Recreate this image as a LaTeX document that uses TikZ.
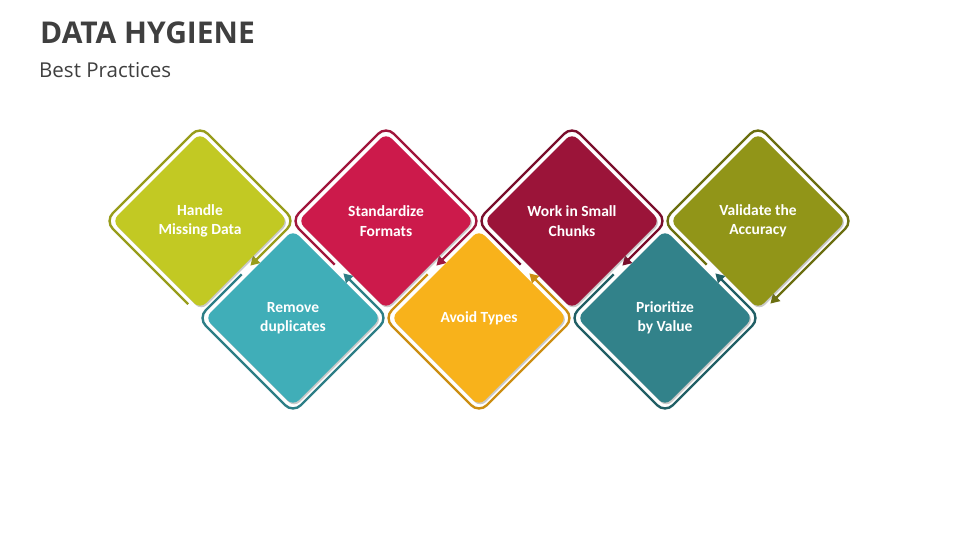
\documentclass[tikz,border=0pt]{standalone}
\usepackage{fontspec}
\setmainfont{Carlito}
\newfontfamily\titlefont{Open Sans}
\usetikzlibrary{shapes.geometric,shadows,calc,arrows.meta}
\definecolor{titlegray}{HTML}{3F3F3F}
\definecolor{cAfill}{HTML}{C2C923}\definecolor{cAline}{HTML}{989D1B}
\definecolor{cBfill}{HTML}{40AEB8}\definecolor{cBline}{HTML}{2D7E86}
\definecolor{cCfill}{HTML}{CC1A4B}\definecolor{cCline}{HTML}{A0163C}
\definecolor{cDfill}{HTML}{F8B21B}\definecolor{cDline}{HTML}{CC8E12}
\definecolor{cEfill}{HTML}{9B1439}\definecolor{cEline}{HTML}{7A0E2C}
\definecolor{cFfill}{HTML}{32828A}\definecolor{cFline}{HTML}{215F65}
\definecolor{cGfill}{HTML}{919518}\definecolor{cGline}{HTML}{6B6F10}
\begin{document}
\begin{tikzpicture}[x=1pt,y=-1pt,
  fillbox/.style={diamond, minimum width=176pt, minimum height=176pt, inner sep=0pt, outer sep=0pt,
    rounded corners=8pt, text=white, align=center, font=\bfseries\fontsize{15.5}{19.5}\selectfont,
    drop shadow={shadow xshift=1.2pt, shadow yshift=-1.6pt, opacity=0.35, fill=black!60}},
  ringbox/.style={diamond, minimum width=190pt, minimum height=190pt, inner sep=0pt, outer sep=0pt},
  ringline/.style={line width=2.4pt, rounded corners=11pt, -{Triangle[length=9pt,width=10pt]}},
]
\useasboundingbox (0,0) rectangle (960,540);

\node[anchor=base west, inner sep=0pt, text=titlegray, font=\titlefont\bfseries\fontsize{30}{34}\selectfont] (title) at (40,44) {DATA HYGIENE};
\node[anchor=base west, inner sep=0pt, text=titlegray, font=\titlefont\fontsize{20.5}{24}\selectfont] (subtitle) at (39,78) {Best Practices};

% ring shapes (invisible, used for the outline paths)
\node[ringbox] (o1) at (200,221) {};
\node[ringbox] (o2) at (293,318) {};
\node[ringbox] (o3) at (386,221) {};
\node[ringbox] (o4) at (479,318) {};
\node[ringbox] (o5) at (572,221) {};
\node[ringbox] (o6) at (665,318) {};
\node[ringbox] (o7) at (758,221) {};

% outlines with arrows
\draw[ringline, cAline] ($(o1.west)!0.875!(o1.south)$) -- (o1.west) -- (o1.north) -- (o1.east) -- ($(o1.east)!0.47!(o1.south)$);
\draw[ringline, cBline] ($(o2.west)!0.46!(o2.north)$) -- (o2.west) -- (o2.south) -- (o2.east) -- ($(o2.east)!0.47!(o2.north)$);
\draw[ringline, cCline] ($(o3.west)!0.46!(o3.south)$) -- (o3.west) -- (o3.north) -- (o3.east) -- ($(o3.east)!0.47!(o3.south)$);
\draw[ringline, cDline] ($(o4.west)!0.46!(o4.north)$) -- (o4.west) -- (o4.south) -- (o4.east) -- ($(o4.east)!0.47!(o4.north)$);
\draw[ringline, cEline] ($(o5.west)!0.46!(o5.south)$) -- (o5.west) -- (o5.north) -- (o5.east) -- ($(o5.east)!0.47!(o5.south)$);
\draw[ringline, cFline] ($(o6.west)!0.46!(o6.north)$) -- (o6.west) -- (o6.south) -- (o6.east) -- ($(o6.east)!0.47!(o6.north)$);
\draw[ringline, cGline] ($(o7.west)!0.46!(o7.south)$) -- (o7.west) -- (o7.north) -- (o7.east) -- ($(o7.east)!0.87!(o7.south)$);

% filled diamonds
\node[fillbox, fill=cAfill] (d1) at (o1) {Handle\\Missing Data};
\node[fillbox, fill=cBfill] (d2) at (o2) {Remove\\duplicates};
\node[fillbox, fill=cCfill] (d3) at (o3) {Standardize\\Formats};
\node[fillbox, fill=cDfill] (d4) at (o4) {Avoid Types};
\node[fillbox, fill=cEfill] (d5) at (o5) {Work in Small\\Chunks};
\node[fillbox, fill=cFfill] (d6) at (o6) {Prioritize\\by Value};
\node[fillbox, fill=cGfill] (d7) at (o7) {Validate the\\Accuracy};
\end{tikzpicture}
\end{document}
